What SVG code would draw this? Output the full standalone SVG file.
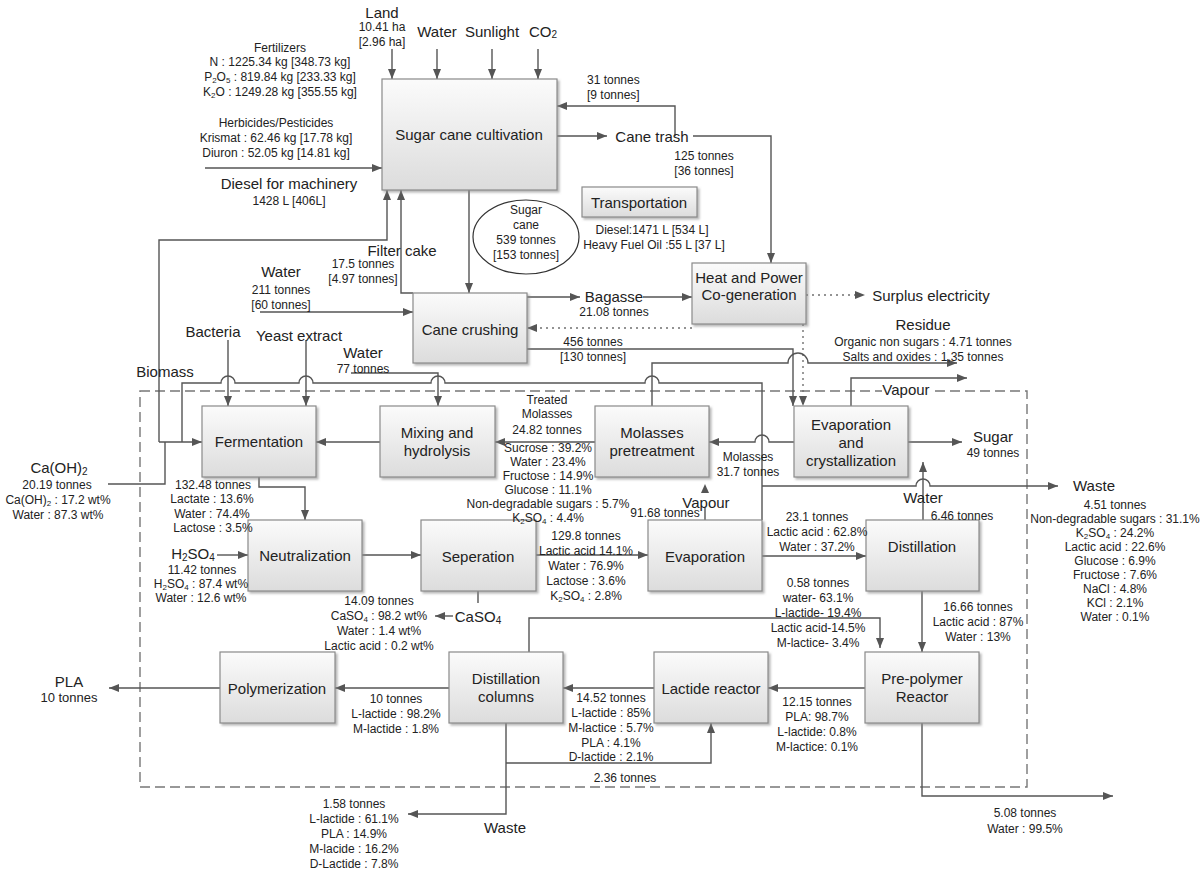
<svg xmlns="http://www.w3.org/2000/svg" width="1200" height="873" viewBox="0 0 1200 873">
<defs>
<linearGradient id="g" x1="0" y1="0" x2="0" y2="1"><stop offset="0" stop-color="#fbfbfb"/><stop offset="1" stop-color="#dcdcdc"/></linearGradient>
<filter id="sh" x="-10%" y="-10%" width="130%" height="130%"><feDropShadow dx="2" dy="2" stdDeviation="1" flood-color="#888" flood-opacity="0.6"/></filter>
<marker id="a" markerUnits="userSpaceOnUse" markerWidth="10" markerHeight="8" refX="10" refY="4" orient="auto"><path d="M0,0 L10,4 L0,8 z" fill="#555"/></marker>
</defs>
<style>
.b{fill:url(#g);stroke:#8a8a8a;stroke-width:1.2;filter:url(#sh)}
.l{fill:none;stroke:#555;stroke-width:1.4}
.d{fill:none;stroke:#707070;stroke-width:1.4;stroke-dasharray:2 4}
.bd{fill:none;stroke:#777;stroke-width:1.4;stroke-dasharray:10 5}
text{font-family:"Liberation Sans",Arial,sans-serif;fill:#222;text-anchor:middle}
.s{font-size:12px}
.m{font-size:15px}
.t{font-size:13px}
.sb{font-size:8px}
.sb2{font-size:10px}
</style>
<rect width="1200" height="873" fill="#fff"/>

<rect class="bd" x="140" y="391" width="887" height="396"/>
<rect x="882" y="382" width="48" height="16" fill="#fff"/>
<text class="m" x="906" y="395">Vapour</text>

<g id="connectors">
<path class="l" d="M392,49 V79" marker-end="url(#a)"/>
<path class="l" d="M437,49 V79" marker-end="url(#a)"/>
<path class="l" d="M492,49 V79" marker-end="url(#a)"/>
<path class="l" d="M538,49 V79" marker-end="url(#a)"/>
<path class="l" d="M205,168 H382" marker-end="url(#a)"/>
<path class="l" d="M557,136 H607" marker-end="url(#a)"/>
<path class="l" d="M693,136 H771 V263" marker-end="url(#a)"/>
<path class="l" d="M675,136 V106 H557" marker-end="url(#a)"/>
<path class="l" d="M469,190 V293" marker-end="url(#a)"/>
<path class="l" d="M159,442 V240 H387 V190" marker-end="url(#a)"/>
<path class="l" d="M413,293 H401 V190" marker-end="url(#a)"/>
<path class="l" d="M260,312 H413" marker-end="url(#a)"/>
<path class="l" d="M527,297 H580" marker-end="url(#a)"/>
<path class="l" d="M643,297 H692" marker-end="url(#a)"/>
<path class="d" d="M806,295 H865" marker-end="url(#a)"/>
<path class="d" d="M692,328 H527" marker-end="url(#a)"/>
<path class="d" d="M803,324 V406" marker-end="url(#a)"/>
<path class="l" d="M527,349 H793 V406" marker-end="url(#a)"/>
<path class="l" d="M652,406 V363 H788 A10,10 0 0 1 808,363 H957" marker-end="url(#a)"/>
<path class="l" d="M851,406 V378 H967" marker-end="url(#a)"/>
<path class="l" d="M908,442 H962" marker-end="url(#a)"/>
<path class="l" d="M794,442 H769 A7,7 0 0 0 755,442 H709" marker-end="url(#a)"/>
<path class="l" d="M595,442 H495" marker-end="url(#a)"/>
<path class="l" d="M380,442 H316" marker-end="url(#a)"/>
<path class="l" d="M762,520 V383 H659 A7,7 0 0 0 645,383 H445 A7,7 0 0 0 431,383 H313 A7,7 0 0 0 299,383 H235 A7,7 0 0 0 221,383 H182 V442"/>
<path class="l" d="M159,442 H202" marker-end="url(#a)"/>
<path class="l" d="M108,484 H165 V442"/>
<path class="l" d="M762,486 H916 A7,7 0 0 1 930,486 H1058" marker-end="url(#a)"/>
<path class="l" d="M923,520 V462" marker-end="url(#a)"/>
<path class="l" d="M228,340 V406" marker-end="url(#a)"/>
<path class="l" d="M306,340 V406" marker-end="url(#a)"/>
<path class="l" d="M351,373 H438 V406" marker-end="url(#a)"/>
<path class="l" d="M259,477 V487 H305 V520" marker-end="url(#a)"/>
<path class="l" d="M217,555 H248" marker-end="url(#a)"/>
<path class="l" d="M362,555 H421" marker-end="url(#a)"/>
<path class="l" d="M478,591 V603"/>
<path class="l" d="M453,616 H435" marker-end="url(#a)"/>
<path class="l" d="M536,555 H648" marker-end="url(#a)"/>
<path class="l" d="M705,520 V508"/>
<path d="M705,484 L709,493 L701,493 z" fill="#555"/>
<path class="l" d="M762,556 H866" marker-end="url(#a)"/>
<path class="l" d="M922,591 V652" marker-end="url(#a)"/>
<path class="l" d="M529,652 V618 H880 V648" marker-end="url(#a)"/>
<path class="l" d="M865,688 H768" marker-end="url(#a)"/>
<path class="l" d="M654,688 H563" marker-end="url(#a)"/>
<path class="l" d="M449,688 H335" marker-end="url(#a)"/>
<path class="l" d="M220,688 H109" marker-end="url(#a)"/>
<path class="l" d="M506,723 V814 H408" marker-end="url(#a)"/>
<path class="l" d="M506,763 H711 V723" marker-end="url(#a)"/>
<path class="l" d="M922,723 V796 H1113" marker-end="url(#a)"/>
</g>

<g id="cultivation"><rect class="b" x="382" y="79" width="175" height="111"/><text class="m" x="469" y="140">Sugar cane cultivation</text></g>
<g id="crushing"><rect class="b" x="413" y="293" width="114" height="70"/><text class="m" x="470" y="335">Cane crushing</text></g>
<g id="cogen"><rect class="b" x="692" y="263" width="114" height="61"/><text class="m" x="749" y="283">Heat and Power</text><text class="m" x="749" y="300">Co-generation</text></g>
<g id="transport"><rect class="b" x="582" y="187" width="115" height="30"/><text class="m" x="639" y="208">Transportation</text></g>
<g id="sugarcane"><ellipse cx="526" cy="237" rx="53" ry="37" fill="#fff" stroke="#333" stroke-width="1.2"/>
<text class="s" x="526" y="214">Sugar</text><text class="s" x="526" y="229">cane</text><text class="s" x="526" y="244">539 tonnes</text><text class="s" x="526" y="259">[153 tonnes]</text></g>
<g id="fermentation"><rect class="b" x="202" y="406" width="114" height="71"/><text class="m" x="259" y="447">Fermentation</text></g>
<g id="mixing"><rect class="b" x="380" y="406" width="115" height="71"/><text class="m" x="437" y="438">Mixing and</text><text class="m" x="437" y="456">hydrolysis</text></g>
<g id="molasses"><rect class="b" x="595" y="406" width="114" height="71"/><text class="m" x="652" y="438">Molasses</text><text class="m" x="652" y="456">pretreatment</text></g>
<g id="evapcryst"><rect class="b" x="794" y="406" width="114" height="71"/><text class="m" x="851" y="430">Evaporation</text><text class="m" x="851" y="448">and</text><text class="m" x="851" y="466">crystallization</text></g>
<g id="neutralization"><rect class="b" x="248" y="520" width="114" height="71"/><text class="m" x="305" y="561">Neutralization</text></g>
<g id="separation"><rect class="b" x="421" y="520" width="115" height="71"/><text class="m" x="478" y="562">Seperation</text></g>
<g id="evaporation"><rect class="b" x="648" y="520" width="114" height="71"/><text class="m" x="705" y="562">Evaporation</text></g>
<g id="distillation"><rect class="b" x="866" y="520" width="113" height="71"/><text class="m" x="922" y="552">Distillation</text></g>
<g id="polymerization"><rect class="b" x="220" y="652" width="115" height="71"/><text class="m" x="277" y="694">Polymerization</text></g>
<g id="distcolumns"><rect class="b" x="449" y="652" width="114" height="71"/><text class="m" x="506" y="684">Distillation</text><text class="m" x="506" y="702">columns</text></g>
<g id="lactide"><rect class="b" x="654" y="652" width="114" height="71"/><text class="m" x="711" y="694">Lactide reactor</text></g>
<g id="prepolymer"><rect class="b" x="865" y="652" width="114" height="71"/><text class="m" x="922" y="684">Pre-polymer</text><text class="m" x="922" y="702">Reactor</text></g>

<g id="labels">
<text class="m" x="382" y="18">Land</text>
<text class="s" x="382" y="31">10.41 ha</text>
<text class="s" x="382" y="46">[2.96 ha]</text>
<text class="m" x="437" y="37">Water</text>
<text class="m" x="492" y="37">Sunlight</text>
<text class="m" x="543" y="37">CO<tspan class="sb2" dy="1">2</tspan></text>
<text class="s" x="280" y="52">Fertilizers</text>
<text class="s" x="280" y="66">N : 1225.34 kg [348.73 kg]</text>
<text class="s" x="280" y="81">P<tspan class="sb" dy="2">2</tspan><tspan dy="-2">O</tspan><tspan class="sb" dy="2">5</tspan><tspan dy="-2"> : 819.84 kg [233.33 kg]</tspan></text>
<text class="s" x="280" y="96">K<tspan class="sb" dy="2">2</tspan><tspan dy="-2">O : 1249.28 kg [355.55 kg]</tspan></text>
<text class="s" x="276" y="127">Herbicides/Pesticides</text>
<text class="s" x="276" y="142">Krismat : 62.46 kg [17.78 kg]</text>
<text class="s" x="276" y="157">Diuron : 52.05 kg [14.81 kg]</text>
<text class="m" x="289" y="189">Diesel for machinery</text>
<text class="s" x="289" y="205">1428 L [406L]</text>
<text class="s" x="587" y="84" style="text-anchor:start">31 tonnes</text>
<text class="s" x="587" y="99" style="text-anchor:start">[9 tonnes]</text>
<text class="m" x="652" y="142">Cane trash</text>
<text class="s" x="704" y="160">125 tonnes</text>
<text class="s" x="704" y="175">[36 tonnes]</text>
<text class="s" x="652" y="234">Diesel:1471 L [534 L]</text>
<text class="s" x="654" y="249">Heavy Fuel Oil :55 L [37 L]</text>
<text class="m" x="931" y="301">Surplus electricity</text>
<text class="m" x="614" y="302">Bagasse</text>
<text class="s" x="614" y="316">21.08 tonnes</text>
<text class="m" x="402" y="256">Filter cake</text>
<text class="s" x="363" y="268">17.5 tonnes</text>
<text class="s" x="363" y="283">[4.97 tonnes]</text>
<text class="m" x="281" y="277">Water</text>
<text class="s" x="281" y="294">211 tonnes</text>
<text class="s" x="281" y="309">[60 tonnes]</text>
<text class="s" x="593" y="346">456 tonnes</text>
<text class="s" x="593" y="361">[130 tonnes]</text>
<text class="m" x="923" y="330">Residue</text>
<text class="s" x="923" y="346">Organic non sugars : 4.71 tonnes</text>
<text class="s" x="923" y="361">Salts and oxides : 1,35 tonnes</text>
<text class="m" x="165" y="377">Biomass</text>
<text class="m" x="213" y="337">Bacteria</text>
<text class="m" x="299" y="341">Yeast extract</text>
<text class="m" x="363" y="358">Water</text>
<text class="s" x="363" y="373">77 tonnes</text>
<text class="s" x="547" y="404">Treated</text>
<text class="s" x="547" y="418">Molasses</text>
<text class="s" x="547" y="434">24.82 tonnes</text>
<text class="s" x="548" y="452">Sucrose : 39.2%</text>
<text class="s" x="548" y="466">Water : 23.4%</text>
<text class="s" x="548" y="480">Fructose : 14.9%</text>
<text class="s" x="548" y="494">Glucose : 11.1%</text>
<text class="s" x="548" y="508">Non-degradable sugars : 5.7%</text>
<text class="s" x="548" y="522">K<tspan class="sb" dy="2">2</tspan><tspan dy="-2">SO</tspan><tspan class="sb" dy="2">4</tspan><tspan dy="-2"> : 4.4%</tspan></text>
<text class="s" x="748" y="461">Molasses</text>
<text class="s" x="748" y="476">31.7 tonnes</text>
<text class="m" x="993" y="442">Sugar</text>
<text class="s" x="993" y="457">49 tonnes</text>
<text class="m" x="1094" y="491">Waste</text>
<text class="s" x="1115" y="509">4.51 tonnes</text>
<text class="s" x="1115" y="523">Non-degradable sugars : 31.1%</text>
<text class="s" x="1115" y="537">K<tspan class="sb" dy="2">2</tspan><tspan dy="-2">SO</tspan><tspan class="sb" dy="2">4</tspan><tspan dy="-2"> : 24.2%</tspan></text>
<text class="s" x="1115" y="551">Lactic acid : 22.6%</text>
<text class="s" x="1115" y="565">Glucose : 6.9%</text>
<text class="s" x="1115" y="579">Fructose : 7.6%</text>
<text class="s" x="1115" y="593">NaCl : 4.8%</text>
<text class="s" x="1115" y="607">KCl : 2.1%</text>
<text class="s" x="1115" y="621">Water : 0.1%</text>
<text class="m" x="923" y="503">Water</text>
<text class="s" x="962" y="520">6.46 tonnes</text>
<text class="s" x="817" y="521">23.1 tonnes</text>
<text class="s" x="817" y="536">Lactic acid : 62.8%</text>
<text class="s" x="817" y="551">Water : 37.2%</text>
<text class="s" x="818" y="587">0.58 tonnes</text>
<text class="s" x="818" y="602">water- 63.1%</text>
<text class="s" x="818" y="617">L-lactide- 19.4%</text>
<text class="s" x="818" y="632">Lactic acid-14.5%</text>
<text class="s" x="818" y="647">M-lactice- 3.4%</text>
<text class="s" x="978" y="611">16.66 tonnes</text>
<text class="s" x="978" y="626">Lactic acid : 87%</text>
<text class="s" x="978" y="641">Water : 13%</text>
<text class="m" x="706" y="508">Vapour</text>
<text class="s" x="665" y="517">91.68 tonnes</text>
<text class="s" x="586" y="540">129.8 tonnes</text>
<text class="s" x="586" y="555">Lactic acid 14.1%</text>
<text class="s" x="586" y="570">Water : 76.9%</text>
<text class="s" x="586" y="585">Lactose : 3.6%</text>
<text class="s" x="586" y="600">K<tspan class="sb" dy="2">2</tspan><tspan dy="-2">SO</tspan><tspan class="sb" dy="2">4</tspan><tspan dy="-2"> : 2.8%</tspan></text>
<text class="m" x="478" y="622">CaSO<tspan class="sb2" dy="2">4</tspan></text>
<text class="s" x="379" y="605">14.09 tonnes</text>
<text class="s" x="379" y="620">CaSO<tspan class="sb" dy="2">4</tspan><tspan dy="-2"> : 98.2 wt%</tspan></text>
<text class="s" x="379" y="635">Water : 1.4 wt%</text>
<text class="s" x="379" y="650">Lactic acid : 0.2 wt%</text>
<text class="s" x="396" y="703">10 tonnes</text>
<text class="s" x="396" y="718">L-lactide : 98.2%</text>
<text class="s" x="396" y="733">M-lactide : 1.8%</text>
<text class="m" x="69" y="687">PLA</text>
<text class="t" x="69" y="702">10 tonnes</text>
<text class="m" x="505" y="833">Waste</text>
<text class="s" x="354" y="808">1.58 tonnes</text>
<text class="s" x="354" y="823">L-lactide : 61.1%</text>
<text class="s" x="354" y="838">PLA : 14.9%</text>
<text class="s" x="354" y="853">M-lacide  : 16.2%</text>
<text class="s" x="354" y="868">D-Lactide : 7.8%</text>
<text class="s" x="817" y="706">12.15 tonnes</text>
<text class="s" x="817" y="721">PLA: 98.7%</text>
<text class="s" x="817" y="736">L-lactide: 0.8%</text>
<text class="s" x="817" y="751">M-lactice: 0.1%</text>
<text class="s" x="611" y="702">14.52 tonnes</text>
<text class="s" x="611" y="717">L-lactide : 85%</text>
<text class="s" x="611" y="732">M-lactice : 5.7%</text>
<text class="s" x="611" y="747">PLA : 4.1%</text>
<text class="s" x="611" y="761">D-lactide : 2.1%</text>
<text class="s" x="625" y="782">2.36 tonnes</text>
<text class="s" x="1025" y="817">5.08 tonnes</text>
<text class="s" x="1025" y="833">Water : 99.5%</text>
<text class="m" x="59" y="473">Ca(OH)<tspan class="sb2" dy="2">2</tspan></text>
<text class="s" x="57" y="489">20.19 tonnes</text>
<text class="s" x="58" y="504">Ca(OH)<tspan class="sb" dy="2">2</tspan><tspan dy="-2"> : 17.2 wt%</tspan></text>
<text class="s" x="58" y="519">Water : 87.3 wt%</text>
<text class="s" x="213" y="489">132.48 tonnes</text>
<text class="s" x="212" y="503">Lactate : 13.6%</text>
<text class="s" x="212" y="518">Water : 74.4%</text>
<text class="s" x="213" y="532">Lactose : 3.5%</text>
<text class="m" x="193" y="559">H<tspan class="sb2" dy="2">2</tspan><tspan dy="-2">SO</tspan><tspan class="sb2" dy="2">4</tspan></text>
<text class="s" x="202" y="574">11.42 tonnes</text>
<text class="s" x="201" y="588">H<tspan class="sb" dy="2">2</tspan><tspan dy="-2">SO</tspan><tspan class="sb" dy="2">4</tspan><tspan dy="-2"> : 87.4 wt%</tspan></text>
<text class="s" x="201" y="602">Water : 12.6 wt%</text>
</g>
</svg>
